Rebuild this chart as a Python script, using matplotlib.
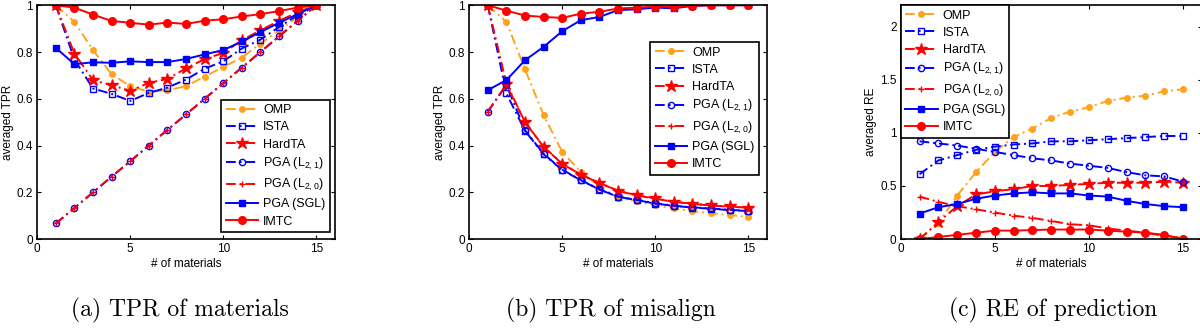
import matplotlib
matplotlib.use("Agg")
import matplotlib.pyplot as plt

plt.rcParams["font.family"] = ["Liberation Sans", "DejaVu Sans"]
plt.rcParams["mathtext.default"] = "regular"

n_materials = list(range(1, 16))
labels = ["OMP", "ISTA", "HardTA", "PGA (L$_{2,1}$)", "PGA (L$_{2,0}$)", "PGA (SGL)", "IMTC"]

# (a) TPR of materials
tpr_mat_omp = [1.0, 0.929, 0.808, 0.705, 0.654, 0.63, 0.637, 0.654, 0.695, 0.736, 0.776, 0.836, 0.893, 0.95, 1.0]
tpr_mat_ista = [1.0, 0.768, 0.644, 0.621, 0.591, 0.625, 0.648, 0.682, 0.729, 0.76, 0.815, 0.853, 0.907, 0.957, 1.0]
tpr_mat_hard = [1.0, 0.793, 0.68, 0.658, 0.634, 0.668, 0.685, 0.73, 0.77, 0.796, 0.85, 0.893, 0.933, 0.97, 1.0]
tpr_mat_l21 = [0.067, 0.133, 0.2, 0.267, 0.333, 0.4, 0.467, 0.533, 0.6, 0.667, 0.733, 0.8, 0.867, 0.933, 1.0]
tpr_mat_l20 = [0.067, 0.133, 0.2, 0.267, 0.333, 0.4, 0.467, 0.533, 0.6, 0.667, 0.733, 0.8, 0.867, 0.933, 1.0]
tpr_mat_sgl = [0.818, 0.748, 0.756, 0.754, 0.76, 0.757, 0.757, 0.77, 0.79, 0.808, 0.845, 0.885, 0.925, 0.962, 1.0]
tpr_mat_imtc = [1.0, 0.99, 0.96, 0.933, 0.925, 0.917, 0.926, 0.92, 0.934, 0.94, 0.952, 0.962, 0.975, 0.99, 1.0]

# (b) TPR of misalign
tpr_mis_omp = [1.0, 0.929, 0.726, 0.53, 0.373, 0.288, 0.224, 0.177, 0.162, 0.145, 0.131, 0.12, 0.11, 0.103, 0.095]
tpr_mis_ista = [1.0, 0.623, 0.463, 0.363, 0.295, 0.252, 0.212, 0.181, 0.167, 0.152, 0.142, 0.135, 0.13, 0.124, 0.12]
tpr_mis_hard = [1.0, 0.665, 0.501, 0.395, 0.323, 0.276, 0.241, 0.207, 0.188, 0.174, 0.16, 0.152, 0.144, 0.14, 0.135]
tpr_mis_l21 = [0.545, 0.66, 0.465, 0.365, 0.297, 0.253, 0.213, 0.182, 0.168, 0.153, 0.143, 0.136, 0.131, 0.125, 0.121]
tpr_mis_l20 = [0.545, 0.66, 0.5, 0.394, 0.322, 0.275, 0.24, 0.206, 0.187, 0.173, 0.159, 0.151, 0.143, 0.139, 0.134]
tpr_mis_sgl = [0.637, 0.68, 0.765, 0.822, 0.889, 0.936, 0.95, 0.979, 0.983, 0.99, 0.987, 0.997, 1.0, 1.0, 1.0]
tpr_mis_imtc = [1.0, 0.977, 0.956, 0.95, 0.946, 0.964, 0.972, 0.986, 0.99, 0.994, 0.993, 0.997, 1.0, 1.0, 1.0]

# (c) RE of prediction
re_omp = [0.0, 0.15, 0.41, 0.63, 0.82, 0.96, 1.04, 1.14, 1.2, 1.24, 1.3, 1.33, 1.35, 1.39, 1.41]
re_ista = [0.61, 0.74, 0.79, 0.84, 0.87, 0.89, 0.9, 0.92, 0.92, 0.93, 0.94, 0.95, 0.96, 0.97, 0.97]
re_hard = [0.0, 0.16, 0.31, 0.42, 0.45, 0.47, 0.5, 0.5, 0.51, 0.52, 0.53, 0.53, 0.53, 0.54, 0.53]
re_l21 = [0.92, 0.9, 0.88, 0.85, 0.82, 0.79, 0.76, 0.74, 0.71, 0.69, 0.67, 0.63, 0.6, 0.59, 0.54]
re_l20 = [0.4, 0.35, 0.31, 0.28, 0.25, 0.22, 0.2, 0.17, 0.14, 0.13, 0.1, 0.08, 0.06, 0.03, 0.01]
re_sgl = [0.24, 0.3, 0.33, 0.38, 0.41, 0.43, 0.44, 0.43, 0.43, 0.41, 0.4, 0.36, 0.33, 0.31, 0.3]
re_imtc = [0.0, 0.02, 0.04, 0.06, 0.08, 0.08, 0.085, 0.09, 0.09, 0.09, 0.08, 0.07, 0.06, 0.04, 0.0]

ORANGE = "#FFA31A"
DASHDOT = (0, (5, 2, 1, 2))
STYLES = [
    dict(color=ORANGE, ls=DASHDOT, marker="o", ms=4, mfc=ORANGE, mec=ORANGE),
    dict(color="blue", ls=DASHDOT, marker="s", ms=4, mfc="none", mec="blue"),
    dict(color="red", ls=DASHDOT, marker="*", ms=9, mfc="red", mec="red"),
    dict(color="blue", ls=DASHDOT, marker="o", ms=4.5, mfc="none", mec="blue"),
    dict(color="red", ls=DASHDOT, marker="+", ms=5, mfc="red", mec="red"),
    dict(color="blue", ls="-", marker="s", ms=5, mfc="blue", mec="blue"),
    dict(color="red", ls="-", marker="o", ms=5.5, mfc="red", mec="red"),
]


def draw_panel(ax, series, ylabel, ylim, yticks, legend_kw):
    for ys, lab, st in zip(series, labels, STYLES):
        ax.plot(n_materials, ys, lw=1.4, label=lab, **st)
    ax.set_xlim(0, 16)
    ax.set_ylim(*ylim)
    ax.set_xticks([0, 5, 10, 15])
    ax.set_yticks(yticks)
    ax.set_xlabel("# of materials", fontsize=8.5, labelpad=2)
    ax.set_ylabel(ylabel, fontsize=8.5, labelpad=2)
    ax.tick_params(direction="in", top=True, right=True, labelsize=8.5, length=3, width=0.8, pad=3)
    for sp in ax.spines.values():
        sp.set_linewidth(1.2)
    leg = ax.legend(fontsize=9, handlelength=2.6, labelspacing=0.42, borderaxespad=0,
                    fancybox=False, framealpha=1, edgecolor="black", borderpad=0.35,
                    handletextpad=0.4, **legend_kw)
    leg.get_frame().set_linewidth(1.2)


fig = plt.figure(figsize=(12, 3.28), dpi=100)
ax_a = fig.add_axes([0.031, 0.271, 0.248, 0.713])
ax_b = fig.add_axes([0.391, 0.271, 0.248, 0.713])
ax_c = fig.add_axes([0.7506, 0.271, 0.251, 0.713])

draw_panel(ax_a, [tpr_mat_omp, tpr_mat_ista, tpr_mat_hard, tpr_mat_l21, tpr_mat_l20, tpr_mat_sgl, tpr_mat_imtc],
           "averaged TPR", (0, 1), [0, 0.2, 0.4, 0.6, 0.8, 1],
           dict(loc="lower right", bbox_to_anchor=(0.983, 0.03)))
draw_panel(ax_b, [tpr_mis_omp, tpr_mis_ista, tpr_mis_hard, tpr_mis_l21, tpr_mis_l20, tpr_mis_sgl, tpr_mis_imtc],
           "averaged TPR", (0, 1), [0, 0.2, 0.4, 0.6, 0.8, 1],
           dict(loc="upper right", bbox_to_anchor=(0.973, 0.842)))
draw_panel(ax_c, [re_omp, re_ista, re_hard, re_l21, re_l20, re_sgl, re_imtc],
           "averaged RE", (0, 2.2), [0, 0.5, 1, 1.5, 2],
           dict(loc="upper left", bbox_to_anchor=(0, 1)))

for ax in (ax_a, ax_b, ax_c):
    ax.yaxis.set_major_formatter(matplotlib.ticker.FuncFormatter(lambda v, p: f"{v:g}"))

captions = [(0.15, "(a) TPR of materials"), (0.509, "(b) TPR of misalign"), (0.878, "(c) RE of prediction")]
for x, txt in captions:
    fig.text(x, 0.055, txt, ha="center", va="center", fontsize=17, family="cmr10")

fig.savefig("out.png", dpi=100)
